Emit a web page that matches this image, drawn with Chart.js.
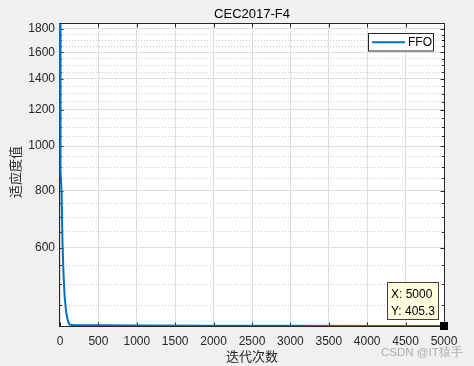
<!DOCTYPE html>
<html><head><meta charset="utf-8">
<script src="https://cdn.jsdelivr.net/npm/chart.js@4.4.0/dist/chart.umd.min.js"></script>
<style>html,body{margin:0;padding:0;background:#f0f0f0;overflow:hidden}</style>
</head><body>
<canvas id="c" width="474" height="366"></canvas>
<script>
const iterations = [0, 2, 4, 7, 13, 20, 33, 45, 60, 80, 100, 115, 130, 200, 500, 1000, 2000, 3000, 4000, 5000];
const fitness = [1845, 1500, 1200, 1000, 880, 800, 610, 530, 470, 435, 418, 411, 408, 407, 406.6, 406.2, 405.9, 405.7, 405.5, 405.3];
const xTicks = [0, 500, 1000, 1500, 2000, 2500, 3000, 3500, 4000, 4500, 5000];
const yMajorTicks = [600, 800, 1000, 1200, 1400, 1600, 1800];
const yMinorTicks = [450, 500, 550, 650, 700, 750, 850, 900, 950, 1050, 1100, 1150, 1250, 1300, 1350, 1450, 1500, 1550, 1650, 1700, 1750];
const seriesName = 'FFO';
const chartTitle = 'CEC2017-F4';
const xTitle = '迭代次数';
const yTitle = '适应度值';
const tipX = 5000, tipY = 405.3;
const watermark = 'CSDN @IT猿手';

const LAT = 'Liberation Sans, Arial, sans-serif';
const CJK = '"Noto Sans CJK SC", sans-serif';
const BLUE = '#0072BD';

const decor = {
  id: 'decor',
  beforeDraw(chart) {
    const {ctx, chartArea: a} = chart;
    ctx.save();
    ctx.fillStyle = '#f0f0f0';
    ctx.fillRect(0, 0, chart.width, chart.height);
    ctx.fillStyle = '#ffffff';
    ctx.fillRect(a.left, a.top, a.right - a.left, a.bottom - a.top);
    ctx.restore();
  },
  beforeDatasetsDraw(chart) {
    const {ctx, chartArea: a, scales} = chart;
    const xs = scales.x, ys = scales.y;
    const L = Math.round(a.left) - 0.5, R = Math.round(a.right) + 0.5;
    const T = Math.round(a.top) - 0.5, B = Math.round(a.bottom) + 0.5;
    ctx.save();
    ctx.strokeStyle = '#262626';
    ctx.lineWidth = 1;
    ctx.strokeRect(L, T, R - L, B - T);
    ctx.beginPath();
    xTicks.forEach(v => {
      const px = Math.round(xs.getPixelForValue(v)) + 0.5;
      ctx.moveTo(px, B); ctx.lineTo(px, B - 4);
      ctx.moveTo(px, T); ctx.lineTo(px, T + 4);
    });
    yMajorTicks.forEach(v => {
      const py = Math.round(ys.getPixelForValue(v)) + 0.5;
      ctx.moveTo(L, py); ctx.lineTo(L + 4, py);
      ctx.moveTo(R, py); ctx.lineTo(R - 4, py);
    });
    yMinorTicks.forEach(v => {
      const py = Math.round(ys.getPixelForValue(v)) + 0.5;
      ctx.moveTo(L, py); ctx.lineTo(L + 2.5, py);
      ctx.moveTo(R, py); ctx.lineTo(R - 2.5, py);
    });
    ctx.stroke();
    ctx.restore();
  },
  afterDraw(chart) {
    const {ctx, chartArea: a, scales} = chart;
    const xs = scales.x, ys = scales.y;
    const cx = (a.left + a.right) / 2;
    ctx.save();
    // title
    ctx.fillStyle = '#000000';
    ctx.font = '13px ' + LAT;
    ctx.textAlign = 'center';
    ctx.textBaseline = 'middle';
    ctx.fillText(chartTitle, cx, 14);
    // axis titles
    ctx.fillStyle = '#262626';
    ctx.font = '13px ' + CJK;
    ctx.fillText(xTitle, cx, 356);
    ctx.save();
    ctx.translate(15, (a.top + a.bottom) / 2 - 3);
    ctx.rotate(-Math.PI / 2);
    ctx.fillText(yTitle, 0, 0);
    ctx.restore();
    // legend
    ctx.fillStyle = '#ffffff';
    ctx.fillRect(368.5, 33.5, 65, 17.5);
    ctx.strokeStyle = '#262626';
    ctx.lineWidth = 1;
    ctx.strokeRect(368.5, 33.5, 65, 17.5);
    ctx.strokeStyle = BLUE;
    ctx.lineWidth = 2;
    ctx.beginPath(); ctx.moveTo(372, 42.3); ctx.lineTo(405, 42.3); ctx.stroke();
    ctx.fillStyle = '#000000';
    ctx.font = '12px ' + LAT;
    ctx.textAlign = 'left';
    ctx.fillText(seriesName, 408, 42.5);
    // datatip
    const px = xs.getPixelForValue(tipX), py = ys.getPixelForValue(tipY);
    ctx.fillStyle = '#000000';
    ctx.fillRect(px - 4, py - 4, 8, 8);
    const bw = 51, bh = 37;
    const bx = Math.round(px - 6 - bw) + 0.5, by = Math.round(py - 7.5 - bh) + 0.5;
    ctx.fillStyle = '#ffffe0';
    ctx.fillRect(bx, by, bw, bh);
    ctx.strokeStyle = '#404040';
    ctx.lineWidth = 1;
    ctx.strokeRect(bx, by, bw, bh);
    ctx.fillStyle = '#000000';
    ctx.font = '12px ' + LAT;
    ctx.fillText('X: ' + tipX, bx + 3.5, by + 12);
    ctx.fillText('Y: ' + tipY, bx + 3.5, by + 29.5);
    // watermark
    ctx.fillStyle = 'rgba(150,150,150,0.75)';
    ctx.font = '11.5px ' + LAT;
    ctx.fillText(watermark, 381, 352.5);
    ctx.restore();
  }
};

new Chart(document.getElementById('c'), {
  type: 'line',
  data: {
    datasets: [{
      label: seriesName,
      data: iterations.map((x, i) => ({x: x, y: fitness[i]})),
      borderColor: BLUE,
      borderWidth: 2,
      pointRadius: 0,
      tension: 0,
      fill: false,
      clip: {left: 2, top: 0, right: 0, bottom: 0}
    }]
  },
  options: {
    responsive: false,
    animation: false,
    devicePixelRatio: 1,
    parsing: false,
    layout: {padding: {top: 24, right: 30, left: 0, bottom: 0}},
    plugins: {legend: {display: false}, title: {display: false}, tooltip: {enabled: false}},
    scales: {
      x: {
        type: 'linear', min: 0, max: 5000,
        afterBuildTicks: s => { s.ticks = xTicks.map(v => ({value: v})); },
        ticks: {font: {family: LAT, size: 12}, color: '#262626', padding: 8, maxRotation: 0, autoSkip: false, callback: v => String(v)},
        grid: {color: '#dedede', drawTicks: false},
        border: {display: false},
        afterFit: s => { s.height = 40; }
      },
      y: {
        type: 'logarithmic', position: 'left', min: 405.3, max: 1845,
        afterBuildTicks: s => { s.ticks = yMajorTicks.map(v => ({value: v})); },
        ticks: {font: {family: LAT, size: 12}, color: '#262626', padding: 5, autoSkip: false, callback: v => String(v)},
        grid: {color: '#dedede', drawTicks: false},
        border: {display: false},
        afterFit: s => { s.width = 60; }
      },
      yMinor: {
        type: 'logarithmic', position: 'left', min: 405.3, max: 1845,
        afterBuildTicks: s => { s.ticks = yMinorTicks.map(v => ({value: v})); },
        ticks: {display: false},
        grid: {color: '#c9c9c9', drawTicks: false},
        border: {display: false, dash: [1, 2]},
        afterFit: s => { s.width = 0; }
      }
    }
  },
  plugins: [decor]
});
</script>
</body></html>
